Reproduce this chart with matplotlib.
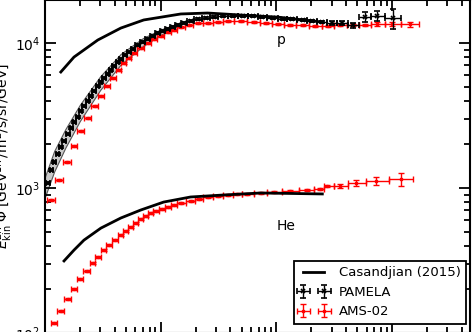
import numpy as np
import matplotlib
matplotlib.use("Agg")
import matplotlib.pyplot as plt

# Casandjian (2015) model curves
cas_p_e = [1.37, 1.78, 2.86, 4.52, 7.13, 14.9, 25.4, 49, 102, 249]
cas_p_f = [6310, 8000, 10490, 12680, 14420, 15860, 16100, 15600, 15100, 13960]
cas_he_e = [1.46, 1.78, 2.17, 3.04, 4.52, 6.72, 10.6, 18.1, 34.9, 72.8, 249]
cas_he_f = [314, 373, 437, 529, 621, 705, 800, 867, 895, 924, 910]

# PAMELA protons
pam_e = [1.06, 1.13, 1.20, 1.29, 1.37, 1.46, 1.58, 1.68, 1.78, 1.92, 2.04, 2.17,
         2.35, 2.49, 2.64, 2.86, 3.04, 3.23, 3.49, 3.71, 3.93, 4.26, 4.52, 4.89,
         5.30, 5.74, 6.34, 7.00, 7.73, 8.53, 9.42, 10.4, 11.5, 12.7, 14.0, 15.8,
         18.1, 20.8, 24.4, 28.6, 34.2, 41.8, 50.9, 62.1, 75.7, 92.4, 113, 137,
         168, 204, 249, 304, 371, 461, 585, 743, 1020]
pam_f = [1081, 1330, 1510, 1715, 1918, 2110, 2355, 2594, 2851, 3090, 3396, 3681,
         3981, 4305, 4667, 5047, 5383, 5741, 6109, 6516, 6934, 7396, 7762, 8265,
         8670, 9095, 9687, 10160, 10660, 11170, 11720, 12110, 12500, 12890, 13310, 13740,
         14180, 14640, 14870, 15110, 15350, 15350, 15350, 15350, 15110, 14870, 14640, 14640,
         14410, 14180, 13960, 13740, 13740, 13310, 15110, 15350, 14870]
pam_rel_err = [0.02] * 50 + [0.02, 0.03, 0.03, 0.04, 0.08, 0.08, 0.16]

# AMS-02 protons
ams_p_e = [1.13, 1.32, 1.55, 1.78, 2.04, 2.35, 2.70, 3.04, 3.42, 3.86, 4.34, 4.80,
           5.30, 5.85, 6.72, 7.73, 8.70, 10.0, 11.5, 12.9, 14.9, 17.4, 20.8, 25.4,
           31.0, 37.8, 49.0, 63.4, 80.4, 104, 132, 168, 217, 281, 356, 461, 585,
           743, 1000, 1430]
ams_p_f = [826, 1135, 1510, 1950, 2472, 3040, 3681, 4305, 5047, 5741, 6516, 7278,
           7889, 8531, 9240, 10000, 10660, 11170, 11910, 12300, 12890, 13310, 13740, 13740,
           13960, 14180, 14180, 13960, 13740, 13520, 13310, 13310, 13100, 13100, 13310, 13310, 13310,
           13520, 13520, 13520]
ams_p_rel_err = [0.02] * 36 + [0.02, 0.03, 0.03, 0.04]

# AMS-02 helium
ams_he_e = [1.20, 1.37, 1.58, 1.78, 2.00, 2.30, 2.59, 2.86, 3.23, 3.56, 4.01, 4.52,
            4.98, 5.50, 6.09, 6.72, 7.42, 8.20, 9.05, 10.2, 11.5, 12.9, 14.9, 18.1,
            21.2, 25.4, 31.0, 37.8, 46.0, 56.0, 72.8, 94.3, 132, 184, 239, 275, 356,
            488, 727, 1190]
ams_he_f = [117, 142, 172, 201, 236, 268, 304, 334, 373, 404, 438, 474,
            505, 538, 574, 611, 641, 673, 694, 716, 739, 763, 788, 813,
            839, 867, 881, 895, 910, 910, 924, 938, 953, 969, 984, 1033, 1033,
            1083, 1117, 1153]
ams_he_rel_err = [0.02] * 36 + [0.03, 0.05, 0.065, 0.10]

# grey uncertainty band around low-energy protons
band_e = [1.0, 1.2, 1.5, 2.0, 3.0, 4.5, 7.0, 10, 14]
band_lo = [870, 1300, 1900, 2900, 4750, 7100, 9500, 11400, 13000]
band_hi = [1200, 1800, 2550, 3750, 5900, 8400, 10800, 12400, 13600]


def bin_err(e):
    e = np.asarray(e, float)
    lg = np.log10(e)
    mid = (lg[1:] + lg[:-1]) / 2
    lo = np.concatenate([[2 * lg[0] - mid[0]], mid])
    hi = np.concatenate([mid, [2 * lg[-1] - mid[-1]]])
    return np.vstack([e - 10 ** lo, 10 ** hi - e])


plt.rcParams['font.family'] = 'DejaVu Sans'
fig = plt.figure(figsize=(4.74, 3.32), dpi=100)
ax = fig.add_axes([45 / 474, -1 / 332, 425 / 474, 333 / 332])

ax.fill_between(band_e, band_lo, band_hi, color='#c8c8c8', ec='#555555', lw=0.8, zorder=1)

ax.plot(cas_p_e, cas_p_f, color='black', lw=2, label='Casandjian (2015)', zorder=4)
ax.plot(cas_he_e, cas_he_f, color='black', lw=2, zorder=4)

ax.errorbar(pam_e, pam_f, xerr=bin_err(pam_e), yerr=np.array(pam_f) * pam_rel_err,
            fmt='x', ms=3, mew=1.2, color='black', ecolor='black', elinewidth=1,
            capsize=2, label='PAMELA', zorder=3)
ax.errorbar(ams_p_e, ams_p_f, xerr=bin_err(ams_p_e), yerr=np.array(ams_p_f) * ams_p_rel_err,
            fmt='s', ms=2, color='red', ecolor='red', elinewidth=1,
            capsize=2, label='AMS-02', zorder=2)
ax.errorbar(ams_he_e, ams_he_f, xerr=bin_err(ams_he_e), yerr=np.array(ams_he_f) * ams_he_rel_err,
            fmt='s', ms=2, color='red', ecolor='red', elinewidth=1,
            capsize=2, zorder=2)

ax.text(110, 10500, 'p', fontsize=10, ha='center', va='center')
ax.text(122, 547, 'He', fontsize=10, ha='center', va='center')

ax.set_xscale('log')
ax.set_yscale('log')
ax.set_xlim(1.0, 4700)
ax.set_ylim(100, 19800)

ax.set_ylabel(r'$E_{\rm kin}^{2.7}\,\Phi$ [GeV$^{1.7}$/m$^2$/s/sr/GeV]', fontsize=10)
ax.yaxis.set_label_coords(-0.07, 0.53)

for s in ax.spines.values():
    s.set_linewidth(1.5)
ax.tick_params(which='both', direction='in', top=True, right=True, labelsize=10, width=1.3,
               labelbottom=False)
ax.tick_params(which='major', length=8)
ax.tick_params(which='minor', length=4)

leg = ax.legend(loc='lower right', bbox_to_anchor=(1.0, 0.016), fontsize=9.5, numpoints=2,
                fancybox=False, edgecolor='black', framealpha=1, borderaxespad=0.3,
                handlelength=2.2)
leg.get_frame().set_linewidth(1.3)

fig.savefig('out.png', dpi=100)
